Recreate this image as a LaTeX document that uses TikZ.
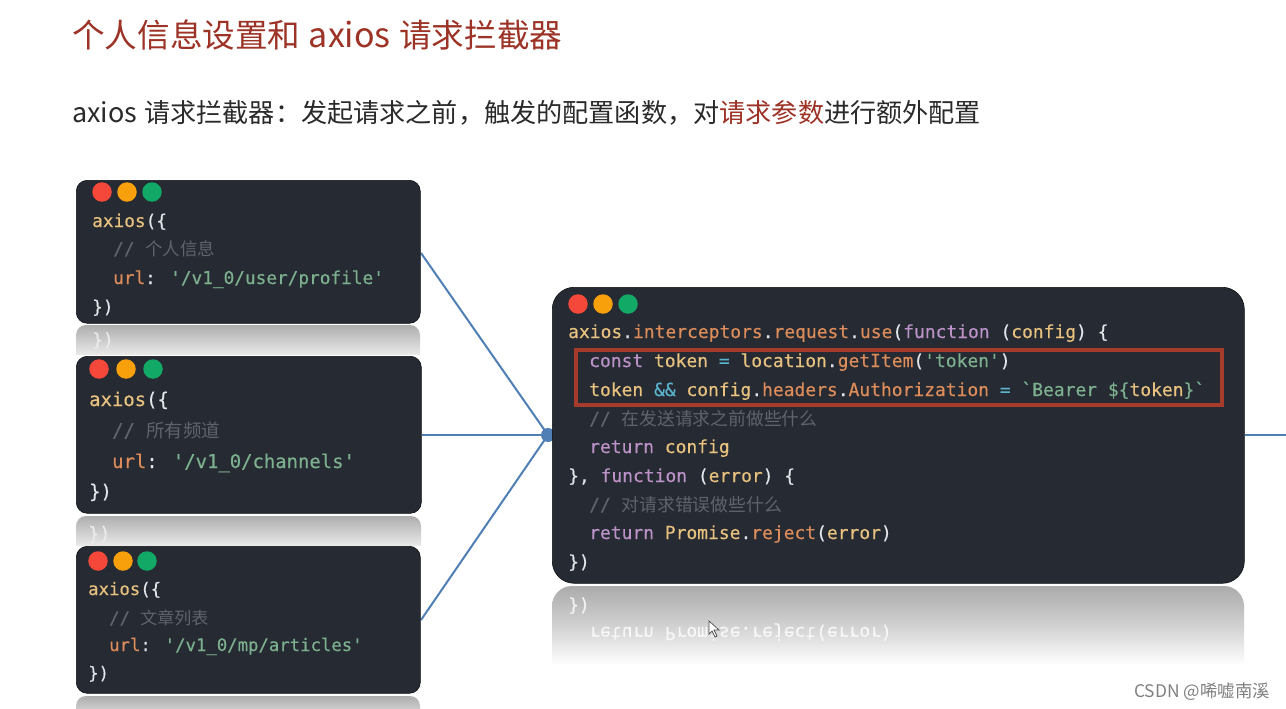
\documentclass[tikz,border=0pt]{standalone}
\usepackage{fontspec}
\setmainfont{Noto Sans CJK SC}
\newfontfamily\cjk{Noto Sans CJK SC}
\newfontfamily\codefont[FakeBold=0.35]{DejaVu Sans Mono}
\usetikzlibrary{backgrounds}
\definecolor{cardbg}{HTML}{262B33}
\definecolor{ckey}{HTML}{E8C27E}
\definecolor{cpur}{HTML}{BC92C8}
\definecolor{cmeth}{HTML}{DE8C5A}
\definecolor{cstr}{HTML}{7DB08E}
\definecolor{cplain}{HTML}{E2E5EA}
\definecolor{cblue}{HTML}{5AB4CC}
\definecolor{ccom}{HTML}{5E636C}
\definecolor{titlered}{HTML}{9C3326}
\definecolor{boxred}{HTML}{A63B2B}
\definecolor{linkblue}{HTML}{4F7FB5}
\definecolor{subtext}{HTML}{2A2A2A}
\definecolor{dr}{HTML}{F5483A}
\definecolor{do}{HTML}{F89F0C}
\definecolor{dg}{HTML}{12A866}
\newcommand{\ck}[1]{\textcolor{ckey}{#1}}
\newcommand{\cp}[1]{\textcolor{cpur}{#1}}
\newcommand{\cm}[1]{\textcolor{cmeth}{#1}}
\newcommand{\cs}[1]{\textcolor{cstr}{#1}}
\newcommand{\cw}[1]{\textcolor{cplain}{#1}}
\newcommand{\cb}[1]{\textcolor{cblue}{#1}}
\newcommand{\cc}[2]{\textcolor{ccom}{// {\cjk\fontsize{#1}{#1}\selectfont #2}}}
\tikzset{
  x=1pt,y=-1pt,
  card/.style={fill=cardbg,draw=black!70!cardbg,line width=0.6pt,rounded corners=11pt,inner sep=0pt,anchor=north west},
  bigcard/.style={card,rounded corners=22pt},
  dot/.style={circle,inner sep=0pt,minimum size=19.5pt},
  code/.style={anchor=base west,inner sep=0pt,font=\codefont\fontsize{#1}{#1}\selectfont,text=cplain},
  code/.default=17.95,
  link/.style={draw=linkblue,line width=2pt},
}
\begin{document}
\begin{tikzpicture}
\useasboundingbox (0,0) rectangle (1286,709);

% reflections
\shade[top color=black!32,bottom color=black!8] (76,355) {[rounded corners=10pt] -- (76,325) -- (420,325)} -- (420,355) -- cycle;
\shade[top color=black!32,bottom color=black!8] (76,546) {[rounded corners=10pt] -- (76,516) -- (421,516)} -- (421,546) -- cycle;
\shade[top color=black!32,bottom color=black!20] (76,709) {[rounded corners=10pt] -- (76,696) -- (420,696)} -- (420,709) -- cycle;
\shade[top color=black!33,bottom color=white,middle color=black!18] (552,665) {[rounded corners=20pt] -- (552,586) -- (1244,586)} -- (1244,665) -- cycle;
\node[code,text=white!92!black] (r1) at (92,346) {\})};
\node[code=18.5,text=white!92!black] (r2) at (88,540) {\})};
\node[code,text=white!95!black] (r3) at (568,611) {\})};
\node[code,text=white!97!black,yscale=-1] (r4) at (589,627) {return Promise.reject(error)};

% cards
\node[card,minimum width=344pt,minimum height=143pt] (card1) at (76,180) {};
\node[card,minimum width=345pt,minimum height=157pt] (card2) at (76,356) {};
\node[card,minimum width=344pt,minimum height=147pt] (card3) at (76,546) {};
\node[bigcard,minimum width=692pt,minimum height=296pt] (main) at (552,287) {};

% connectors, behind the cards
\coordinate (hub) at (548,435);
\coordinate (out1) at (421,253);
\coordinate (out3) at (421,620);
\coordinate (endr) at (1286,435);
\begin{scope}[on background layer]
  \fill[white] (0,0) rectangle (1286,709);
  \path[link] (out1) -- (hub);
  \path[link] (card2.east |- hub) -- (hub);
  \path[link] (out3) -- (hub);
  \path[link] (main.east |- hub) -- (endr);
  \node[circle,fill=linkblue,minimum size=14pt,inner sep=0pt] (hubdot) at (hub) {};
\end{scope}

% window dots
\node[dot,fill=dr] (a1) at (102,192) {};
\node[dot,fill=do] (a2) at (127,192) {};
\node[dot,fill=dg] (a3) at (152,192) {};
\node[dot,fill=dr] (b1) at (99,369) {};
\node[dot,fill=do] (b2) at (126,369) {};
\node[dot,fill=dg] (b3) at (153,369) {};
\node[dot,fill=dr] (c1) at (98,561) {};
\node[dot,fill=do] (c2) at (123,561) {};
\node[dot,fill=dg] (c3) at (147,561) {};
\node[dot,fill=dr] (d1) at (578,304) {};
\node[dot,fill=do] (d2) at (603,304) {};
\node[dot,fill=dg] (d3) at (628,304) {};

% card 1
\node[code=17.75] (a4) at (92,227) {\ck{axios}\cw{(\{}};
\node[code=17.75] (a5) at (113,255) {\cc{17.5}{个人信息}};
\node[code=17.75] (a6) at (113,284) {\cm{url}\cw{:} \cs{'/v1\_0/user/profile'}};
\node[code=17.75] (a7) at (92,313) {\})};

% card 2
\node[code=18.9] (b4) at (89,406) {\ck{axios}\cw{(\{}};
\node[code=18.9] (b5) at (112,437) {\cc{18.5}{所有频道}};
\node[code=18.9] (b6) at (112,468) {\cm{url}\cw{:} \cs{'/v1\_0/channels'}};
\node[code=18.9] (b7) at (89,498) {\})};

% card 3
\node[code=17.3] (c4) at (88,595) {\ck{axios}\cw{(\{}};
\node[code=17.3] (c5) at (109,624) {\cc{17}{文章列表}};
\node[code=17.3] (c6) at (109,651) {\cm{url}\cw{:} \cs{'/v1\_0/mp/articles'}};
\node[code=17.3] (c7) at (88,679) {\})};

% main card
\node[code] (l1) at (568,338) {\ck{axios}\cw{.}\cm{interceptors}\cw{.}\cm{request}\cw{.}\cm{use}\cw{(}\cp{function} \cw{(}\ck{config}\cw{) \{}};
\node[code] (l2) at (589,367) {\cp{const} \ck{token} \cb{=} \ck{location}\cw{.}\cm{getItem}\cw{(}\cs{'token'}\cw{)}};
\node[code] (l3) at (589,396) {\ck{token} \cb{\&\&} \ck{config}\cw{.}\cm{headers}\cw{.}\cm{Authorization} \cb{=} \cs{`Bearer \$\{}\ck{token}\cs{\}`}};
\node[code] (l4) at (589,425) {\cc{17.8}{在发送请求之前做些什么}};
\node[code] (l5) at (589,453) {\cp{return} \ck{config}};
\node[code] (l6) at (568,482) {\cw{\},} \cp{function} \cw{(}\ck{error}\cw{) \{}};
\node[code] (l7) at (589,511) {\cc{17.8}{对请求错误做些什么}};
\node[code] (l8) at (589,539) {\cp{return} \ck{Promise}\cw{.}\cm{reject}\cw{(}\ck{error}\cw{)}};
\node[code] (l9) at (568,568) {\})};

\draw[boxred,line width=3.2pt] (576,350) rectangle (1222,405);

% cursor
\draw[black!70,fill=white,line width=0.7pt] (709,621) -- (709,634) -- (712,631) -- (715,637) -- (717,636) -- (714,630) -- (719,630) -- cycle;

% titles
\node[anchor=base west,inner sep=0pt,text=titlered,font=\fontsize{32.6}{36}\selectfont] (title) at (72,48) {个人信息设置和\hspace{8.5pt}{\fontsize{34}{36}\selectfont axios}\hspace{8.5pt}请求拦截器};
\node[anchor=base west,inner sep=0pt,text=subtext,font=\fontsize{26.15}{30}\selectfont] (sub) at (72,122) {{\fontsize{27}{30}\selectfont axios}\hspace{7pt}请求拦截器：发起请求之前，触发的配置函数，对\textcolor{titlered}{请求参数}进行额外配置};
\node[anchor=base east,inner sep=0pt,text=black!50,font=\fontsize{17.4}{20}\selectfont] (wm) at (1270,697) {CSDN @唏嘘南溪};
\end{tikzpicture}
\end{document}
